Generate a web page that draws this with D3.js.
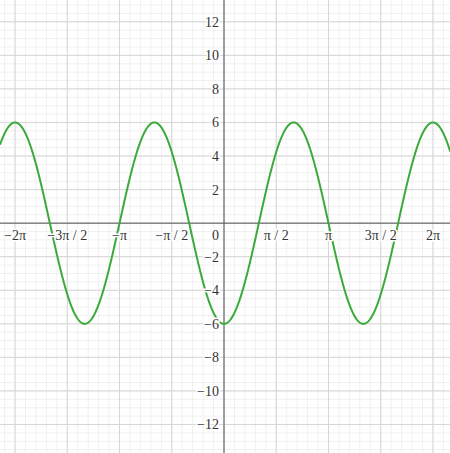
<!DOCTYPE html>
<html><head><meta charset="utf-8">
<script src="https://cdn.jsdelivr.net/npm/d3@7"></script>
<style>body{margin:0;background:#fff}svg{display:block}</style>
</head><body><svg id="c" width="450" height="453"></svg>
<script>
// y = amplitude * cos(freq * x)
const amplitude = -6;
const freq = 1.5;
const xTicks = [-2, -1.5, -1, -0.5, 0.5, 1, 1.5, 2]; // multiples of pi
const xTickLabels = ["\u22122\u03c0", "\u22123\u03c0 / 2", "\u2212\u03c0", "\u2212\u03c0 / 2", "\u03c0 / 2", "\u03c0", "3\u03c0 / 2", "2\u03c0"];
const yTicks = [-12, -10, -8, -6, -4, -2, 2, 4, 6, 8, 10, 12];

const W = 450, H = 453;
const svg = d3.select("#c");
const PI = Math.PI;
const x = d3.scaleLinear().domain([-2.144 * PI, 2.163 * PI]).range([0, W]);
const y = d3.scaleLinear().domain([-13.7, 13.3]).range([H, 0]);

const g = svg.append("g");
// minor grid
const xMinor = d3.range(-2.2, 2.2001, 0.1).map(k => k * PI);
const yMinor = d3.range(-14, 14.01, 0.5);
g.selectAll(".vm").data(xMinor).join("line")
  .attr("x1", d => x(d)).attr("x2", d => x(d)).attr("y1", 0).attr("y2", H)
  .attr("stroke", "#f0f0f0").attr("stroke-width", 1);
g.selectAll(".hm").data(yMinor).join("line")
  .attr("y1", d => y(d)).attr("y2", d => y(d)).attr("x1", 0).attr("x2", W)
  .attr("stroke", "#f0f0f0").attr("stroke-width", 1);
// major grid
const xMajor = d3.range(-2, 2.01, 0.5).map(k => k * PI);
const yMajor = d3.range(-14, 14.01, 2);
g.selectAll(".vM").data(xMajor).join("line")
  .attr("x1", d => x(d)).attr("x2", d => x(d)).attr("y1", 0).attr("y2", H)
  .attr("stroke", "#d6d6d6").attr("stroke-width", 1);
g.selectAll(".hM").data(yMajor).join("line")
  .attr("y1", d => y(d)).attr("y2", d => y(d)).attr("x1", 0).attr("x2", W)
  .attr("stroke", "#d6d6d6").attr("stroke-width", 1);
// axes
g.append("line").attr("x1", x(0)).attr("x2", x(0)).attr("y1", 0).attr("y2", H)
  .attr("stroke", "#555").attr("stroke-width", 1);
g.append("line").attr("y1", y(0)).attr("y2", y(0)).attr("x1", 0).attr("x2", W)
  .attr("stroke", "#555").attr("stroke-width", 1);

// curve
const pts = d3.range(x.invert(0), x.invert(W) + 0.01, 0.01).map(t => [t, amplitude * Math.cos(freq * t)]);
svg.append("path").datum(pts)
  .attr("d", d3.line().x(d => x(d[0])).y(d => y(d[1])))
  .attr("fill", "none").attr("stroke", "#3aab3a").attr("stroke-width", 2);

// labels
const font = "'Liberation Serif', serif";
const lab = svg.append("g").attr("font-family", font).attr("font-size", 14).attr("fill", "#333");
lab.selectAll(".xl").data(xTicks).join("text")
  .attr("x", d => x(d * PI)).attr("y", y(0) + 17)
  .attr("text-anchor", "middle")
  .attr("stroke", "#fff").attr("stroke-width", 3).attr("paint-order", "stroke")
  .text((d, i) => xTickLabels[i]);
lab.selectAll(".yl").data(yTicks).join("text")
  .attr("x", x(0) - 5).attr("y", d => y(d) + 5)
  .attr("text-anchor", "end")
  .attr("stroke", "#fff").attr("stroke-width", 3).attr("paint-order", "stroke")
  .text(d => d < 0 ? "\u2212" + Math.abs(d) : d);
lab.append("text").attr("x", x(0) - 5).attr("y", y(0) + 17).attr("text-anchor", "end")
  .attr("stroke", "#fff").attr("stroke-width", 3).attr("paint-order", "stroke").text("0");
</script></body></html>
